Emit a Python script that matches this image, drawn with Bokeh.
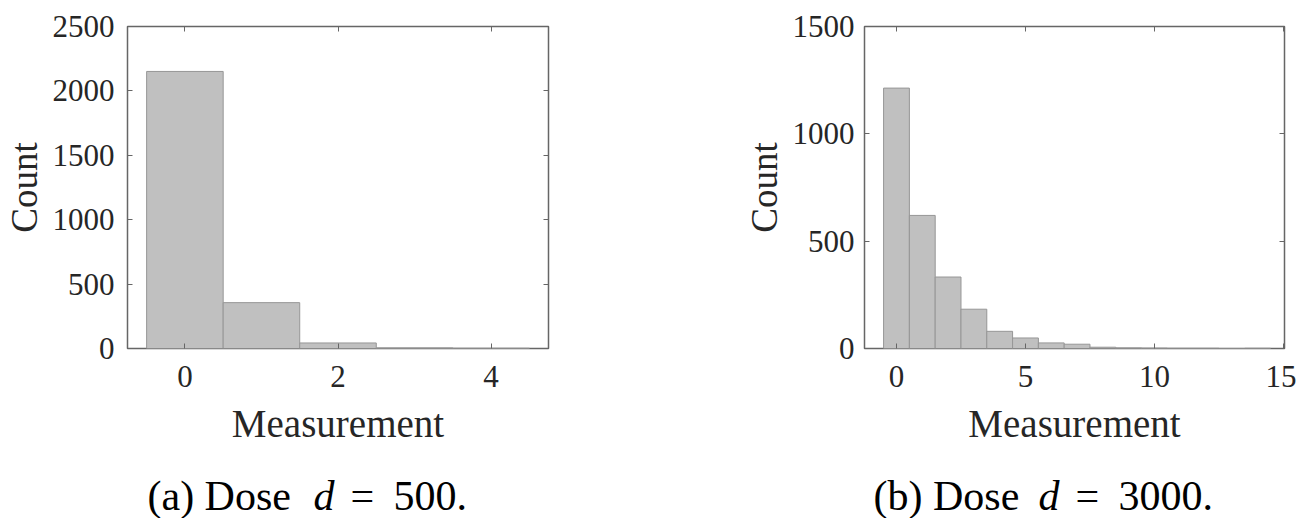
from bokeh.plotting import figure
from bokeh.layouts import row, column
from bokeh.models import Range1d, FixedTicker, LinearAxis
from bokeh.core.properties import value
from bokeh.embed import file_html
from bokeh.resources import INLINE

# ---- data ----
a_bins = [0, 1, 2, 3, 4]
a_counts = [2151, 356, 43, 5, 2]
a_xticks = [0, 2, 4]
a_yticks = [0, 500, 1000, 1500, 2000, 2500]

b_bins = [0, 1, 2, 3, 4, 5, 6, 7, 8, 9, 10, 11, 12, 13, 14]
b_counts = [1213, 620, 333, 183, 80, 49, 26, 20, 6, 3, 2, 1, 1, 0, 1]
b_xticks = [0, 5, 10, 15]
b_yticks = [0, 500, 1000, 1500]

x_label = "Measurement"
y_label = "Count"
cap_a = ["(a) Dose", "d", "=", "500."]
cap_b = ["(b) Dose", "d", "=", "3000."]

FONT = "Liberation Serif"
FRAME = "#666666"
TXT = "#262626"


def make_panel(bins, counts, xr, yr, xticks, yticks, bl, br, fw, ystand):
    p = figure(x_range=Range1d(*xr), y_range=Range1d(*yr),
               frame_width=fw, frame_height=322, height=450,
               min_border_left=bl, min_border_right=br,
               min_border_top=26, min_border_bottom=102,
               output_backend="svg", toolbar_location=None,
               background_fill_color="white", border_fill_color="white")
    p.outline_line_color = FRAME
    p.outline_line_width = 1.5
    p.grid.visible = False
    p.vbar(x=bins, top=counts, width=1.0, bottom=0,
           fill_color="#c0c0c0", line_color="#969696", line_width=1)

    for ax, ticks in ((p.xaxis[0], xticks), (p.yaxis[0], yticks)):
        ax.ticker = FixedTicker(ticks=ticks)
        ax.axis_line_color = None
        ax.major_tick_in = 5
        ax.major_tick_out = 0
        ax.major_tick_line_color = FRAME
        ax.major_tick_line_width = 1
        ax.minor_tick_line_color = None
        ax.major_label_text_font = FONT
        ax.major_label_text_font_size = "31px"
        ax.major_label_text_color = TXT
        ax.axis_label_text_font = FONT
        ax.axis_label_text_font_style = "normal"
        ax.axis_label_text_color = TXT
    p.xaxis[0].axis_label = x_label
    p.xaxis[0].axis_label_text_font_size = "39px"
    p.xaxis[0].major_label_standoff = 17
    p.xaxis[0].axis_label_standoff = 12
    p.yaxis[0].axis_label = y_label
    p.yaxis[0].axis_label_text_font_size = "37px"
    p.yaxis[0].major_label_standoff = ystand
    p.yaxis[0].axis_label_standoff = 5

    # mirrored ticks on top and right (no labels)
    top = LinearAxis(ticker=FixedTicker(ticks=xticks))
    right = LinearAxis(ticker=FixedTicker(ticks=yticks))
    for ax in (top, right):
        ax.axis_line_color = None
        ax.major_tick_in = 5
        ax.major_tick_out = 0
        ax.major_tick_line_color = FRAME
        ax.minor_tick_line_color = None
        ax.major_label_text_font_size = "1px"
        ax.major_label_text_color = None
        ax.major_label_standoff = 0
    p.add_layout(top, "above")
    p.add_layout(right, "right")
    return p


p1 = make_panel(a_bins, a_counts, (-0.75, 4.75), (0, 2500), a_xticks, a_yticks,
                127, 52, 421, 13)
p2 = make_panel(b_bins, b_counts, (-1.24, 15.04), (0, 1500), b_xticks, b_yticks,
                264, 12, 420, 10)

# caption strip (pixel coordinates)
cap = figure(width=1296, height=68, x_range=Range1d(0, 1296), y_range=Range1d(0, 68),
             min_border=0, output_backend="svg", toolbar_location=None,
             background_fill_color="white", border_fill_color="white")
cap.axis.visible = False
cap.grid.visible = False
cap.outline_line_color = None

styles = ["normal", "italic", "normal", "normal"]
for caption, xs in ((cap_a, [147, 313, 350, 393]), (cap_b, [873, 1038, 1075, 1118])):
    for txt, x, st in zip(caption, xs, styles):
        cap.text(x=[x], y=[23], text=[txt], text_font=value(FONT),
                 text_font_size="42px", text_font_style=st, text_color="black",
                 text_baseline="alphabetic", text_align="left")

layout = column(row(p1, p2), cap)
open("out.html", "w").write(file_html(layout, INLINE))
